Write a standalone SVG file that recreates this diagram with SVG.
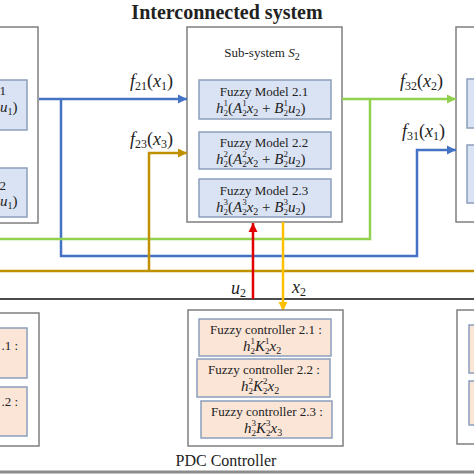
<svg xmlns="http://www.w3.org/2000/svg" width="474" height="474" viewBox="0 0 474 474">
<style>
.outer{fill:#fff;stroke:#7f7f7f;stroke-width:1.5}
.model{fill:#dae3f3;stroke:#8c9fbc;stroke-width:1.5}
.ctrl{fill:#fbe5d6;stroke:#8c9fbc;stroke-width:1.5}
text{font-family:"Liberation Serif","DejaVu Serif",serif;fill:#222}
.t{font-size:13px}
.m{font-size:15px;font-style:italic}
.lbl{font-size:18px;font-style:italic}
.s{font-size:10px;font-style:normal}
.p{font-size:9px;font-style:normal}
.s2{font-size:12px;font-style:normal}
.conn{fill:none;stroke-width:2.5}
</style>
<defs>
<marker id="ab" markerUnits="userSpaceOnUse" markerWidth="10" markerHeight="10" refX="9" refY="5" orient="auto"><path d="M0,0.5 L9,5 L0,9.5 Z" fill="#4472c4"/></marker>
<marker id="ag" markerUnits="userSpaceOnUse" markerWidth="10" markerHeight="10" refX="9" refY="5" orient="auto"><path d="M0,0.5 L9,5 L0,9.5 Z" fill="#92d050"/></marker>
<marker id="ao" markerUnits="userSpaceOnUse" markerWidth="10" markerHeight="10" refX="9" refY="5" orient="auto"><path d="M0,0.5 L9,5 L0,9.5 Z" fill="#bf9000"/></marker>
<marker id="ar" markerUnits="userSpaceOnUse" markerWidth="10" markerHeight="10" refX="9" refY="5" orient="auto"><path d="M0,0.5 L9,5 L0,9.5 Z" fill="#e00000"/></marker>
<marker id="ay" markerUnits="userSpaceOnUse" markerWidth="10" markerHeight="10" refX="9" refY="5" orient="auto"><path d="M0,0.5 L9,5 L0,9.5 Z" fill="#ffc000"/></marker>
</defs>
<rect width="474" height="474" fill="#fff"/>

<text x="227" y="19" font-size="20" font-weight="bold" text-anchor="middle">Interconnected system</text>

<g id="subsystem1">
<rect class="outer" x="-20" y="27" width="58" height="196"/>
<rect class="model" x="-20" y="80" width="47" height="50"/>
<text class="t" x="6" y="95" text-anchor="end">1</text>
<text class="m" x="0" y="112">u<tspan class="s" dy="3">1</tspan><tspan dy="-3" font-style="normal">)</tspan></text>
<rect class="model" x="-20" y="168" width="47" height="49"/>
<text class="t" x="6" y="190" text-anchor="end">2</text>
<text class="m" x="0" y="206">u<tspan class="s" dy="3">1</tspan><tspan dy="-3" font-style="normal">)</tspan></text>
</g>

<g id="subsystem2">
<rect class="outer" x="187" y="27" width="155" height="195"/>
<text class="t" x="262" y="57" text-anchor="middle">Sub-system <tspan font-style="italic">S</tspan><tspan class="s" dy="3">2</tspan></text>
<rect class="model" x="199" y="80" width="132" height="39"/>
<text class="t" x="264" y="96" text-anchor="middle">Fuzzy Model 2.1</text>
<text class="m" x="216" y="113">h<tspan class="p" dy="-7">1</tspan><tspan class="p" dx="-4.5" dy="10">2</tspan><tspan dy="-3" font-style="normal">(</tspan>A<tspan class="p" dy="-7">1</tspan><tspan class="p" dx="-4.5" dy="10">2</tspan><tspan dy="-3">x</tspan><tspan class="s" dy="3">2</tspan><tspan dy="-3" font-style="normal"> + </tspan>B<tspan class="p" dy="-7">1</tspan><tspan class="p" dx="-4.5" dy="10">2</tspan><tspan dy="-3">u</tspan><tspan class="s" dy="3">2</tspan><tspan dy="-3" font-style="normal">)</tspan></text>
<rect class="model" x="199" y="132" width="132" height="37"/>
<text class="t" x="264" y="147" text-anchor="middle">Fuzzy Model 2.2</text>
<text class="m" x="216" y="164">h<tspan class="p" dy="-7">2</tspan><tspan class="p" dx="-4.5" dy="10">2</tspan><tspan dy="-3" font-style="normal">(</tspan>A<tspan class="p" dy="-7">2</tspan><tspan class="p" dx="-4.5" dy="10">2</tspan><tspan dy="-3">x</tspan><tspan class="s" dy="3">2</tspan><tspan dy="-3" font-style="normal"> + </tspan>B<tspan class="p" dy="-7">2</tspan><tspan class="p" dx="-4.5" dy="10">2</tspan><tspan dy="-3">u</tspan><tspan class="s" dy="3">2</tspan><tspan dy="-3" font-style="normal">)</tspan></text>
<rect class="model" x="199" y="179" width="132" height="38"/>
<text class="t" x="264" y="195" text-anchor="middle">Fuzzy Model 2.3</text>
<text class="m" x="216" y="212">h<tspan class="p" dy="-7">3</tspan><tspan class="p" dx="-4.5" dy="10">2</tspan><tspan dy="-3" font-style="normal">(</tspan>A<tspan class="p" dy="-7">3</tspan><tspan class="p" dx="-4.5" dy="10">2</tspan><tspan dy="-3">x</tspan><tspan class="s" dy="3">2</tspan><tspan dy="-3" font-style="normal"> + </tspan>B<tspan class="p" dy="-7">3</tspan><tspan class="p" dx="-4.5" dy="10">2</tspan><tspan dy="-3">u</tspan><tspan class="s" dy="3">2</tspan><tspan dy="-3" font-style="normal">)</tspan></text>
</g>

<g id="subsystem3">
<rect class="outer" x="456" y="27" width="40" height="195"/>
<rect class="model" x="467" y="79" width="30" height="49"/>
<rect class="model" x="467" y="145" width="30" height="58"/>
</g>

<g id="connectors">
<path class="conn" stroke="#4472c4" d="M39,99 H187" marker-end="url(#ab)"/>
<path class="conn" stroke="#4472c4" d="M61,99 V256 H417 V150 H456" marker-end="url(#ab)"/>
<path class="conn" stroke="#92d050" d="M342,99 H456" marker-end="url(#ag)"/>
<path class="conn" stroke="#92d050" d="M370,99 V239 H0"/>
<path class="conn" stroke="#bf9000" d="M0,271 H474"/>
<path class="conn" stroke="#bf9000" d="M149,271 V153 H187" marker-end="url(#ao)"/>
<path d="M0,299 H474" stroke="#111" stroke-width="1.5"/>
<path class="conn" stroke="#e00000" d="M253,299 V223" marker-end="url(#ar)"/>
<path class="conn" stroke="#ffc000" d="M283,222 V311" marker-end="url(#ay)"/>
<text class="lbl" x="130" y="87">f<tspan class="s2" dy="3">21</tspan><tspan dy="-3" font-style="normal">(</tspan>x<tspan class="s2" dy="3">1</tspan><tspan dy="-3" font-style="normal">)</tspan></text>
<text class="lbl" x="130" y="145">f<tspan class="s2" dy="3">23</tspan><tspan dy="-3" font-style="normal">(</tspan>x<tspan class="s2" dy="3">3</tspan><tspan dy="-3" font-style="normal">)</tspan></text>
<text class="lbl" x="400" y="87">f<tspan class="s2" dy="3">32</tspan><tspan dy="-3" font-style="normal">(</tspan>x<tspan class="s2" dy="3">2</tspan><tspan dy="-3" font-style="normal">)</tspan></text>
<text class="lbl" x="402" y="137">f<tspan class="s2" dy="3">31</tspan><tspan dy="-3" font-style="normal">(</tspan>x<tspan class="s2" dy="3">1</tspan><tspan dy="-3" font-style="normal">)</tspan></text>
<text class="lbl" x="231" y="294">u<tspan class="s2" dy="3">2</tspan></text>
<text class="lbl" x="292" y="293">x<tspan class="s2" dy="3">2</tspan></text>
</g>

<g id="controller1">
<rect class="outer" x="-20" y="313" width="59" height="133"/>
<rect class="ctrl" x="-20" y="328" width="47" height="50"/>
<text class="t" x="18" y="350" text-anchor="end">.1 :</text>
<rect class="ctrl" x="-20" y="387" width="47" height="49"/>
<text class="t" x="18" y="406" text-anchor="end">.2 :</text>
</g>

<g id="controller2">
<rect class="outer" x="188" y="310" width="155" height="136"/>
<rect class="ctrl" x="199" y="319" width="132" height="37"/>
<text class="t" x="266" y="334" text-anchor="middle">Fuzzy controller 2.1 :</text>
<text class="m" x="243" y="351">h<tspan class="p" dy="-7">1</tspan><tspan class="p" dx="-4.5" dy="10">2</tspan><tspan dy="-3">K</tspan><tspan class="p" dy="-7">1</tspan><tspan class="p" dx="-4.5" dy="10">2</tspan><tspan dy="-3">x</tspan><tspan class="s" dy="3">2</tspan></text>
<rect class="ctrl" x="197" y="359" width="133" height="38"/>
<text class="t" x="264" y="374" text-anchor="middle">Fuzzy controller 2.2 :</text>
<text class="m" x="241" y="391">h<tspan class="p" dy="-7">2</tspan><tspan class="p" dx="-4.5" dy="10">2</tspan><tspan dy="-3">K</tspan><tspan class="p" dy="-7">2</tspan><tspan class="p" dx="-4.5" dy="10">2</tspan><tspan dy="-3">x</tspan><tspan class="s" dy="3">2</tspan></text>
<rect class="ctrl" x="201" y="401" width="131" height="37"/>
<text class="t" x="267" y="416" text-anchor="middle">Fuzzy controller 2.3 :</text>
<text class="m" x="244" y="433">h<tspan class="p" dy="-7">3</tspan><tspan class="p" dx="-4.5" dy="10">2</tspan><tspan dy="-3">K</tspan><tspan class="p" dy="-7">3</tspan><tspan class="p" dx="-4.5" dy="10">2</tspan><tspan dy="-3">x</tspan><tspan class="s" dy="3">3</tspan></text>
<text x="226" y="466" font-size="16" text-anchor="middle">PDC Controller</text>
</g>

<g id="controller3">
<rect class="outer" x="457" y="310" width="40" height="134"/>
<rect class="ctrl" x="469" y="325" width="30" height="48"/>
<rect class="ctrl" x="469" y="381" width="30" height="44"/>
</g>

<path d="M0,472 H474" stroke="#8c8c8c" stroke-width="3"/>
</svg>
